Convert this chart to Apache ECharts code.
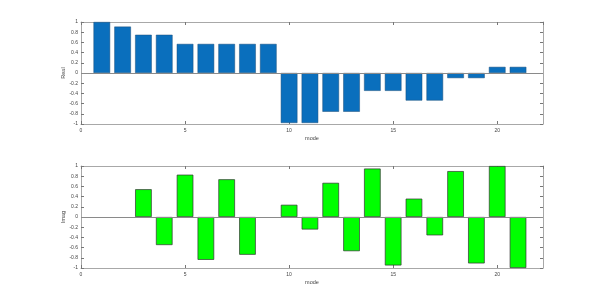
<!DOCTYPE html>
<html>
<head>
<meta charset="utf-8">
<script src="https://cdn.jsdelivr.net/npm/echarts@6/dist/echarts.min.js"></script>
<style>html,body{margin:0;padding:0;background:#fff;}#c{width:600px;height:301px;}</style>
</head>
<body>
<div id="c"></div>
<script>
const modes = [1,2,3,4,5,6,7,8,9,10,11,12,13,14,15,16,17,18,19,20,21];
const realVals = [1.0,0.91,0.75,0.75,0.57,0.57,0.57,0.57,0.57,-0.98,-0.98,-0.76,-0.76,-0.35,-0.35,-0.54,-0.54,-0.1,-0.1,0.12,0.12];
const imagVals = [0,0,0.545,-0.55,0.83,-0.84,0.74,-0.74,0,0.24,-0.245,0.67,-0.67,0.95,-0.95,0.36,-0.36,0.9,-0.91,1.0,-1.0];
const yTicks = [-1,-0.8,-0.6,-0.4,-0.2,0,0.2,0.4,0.6,0.8,1];

const lineCol = '#a8a8a8';
const txtCol = '#444';
const fs = 5;

function xAx(grid, pos, labels, name) {
  return {
    type:'value', gridIndex:grid, position:pos, min:0, max:22.2, interval:5,
    axisLine:{show:true,onZero:false,lineStyle:{color:lineCol,width:1}},
    axisTick:{show:true,inside:true,length:3,lineStyle:{color:'#777'}},
    axisLabel:{show:labels,fontSize:fs,color:txtCol,margin:4,showMaxLabel:false,fontFamily:'Liberation Sans'},
    splitLine:{show:false},
    name: name||'', nameLocation:'middle', nameGap:11, nameMoveOverlap:false,
    nameTextStyle:{fontSize:5.5,color:txtCol,fontFamily:'Liberation Sans'}
  };
}
function yAx(grid, pos, labels, name) {
  return {
    type:'value', gridIndex:grid, position:pos, min:-1, max:1, interval:0.2,
    axisLine:{show:true,onZero:false,lineStyle:{color:lineCol,width:1}},
    axisTick:{show:true,inside:true,length:3,lineStyle:{color:'#777'}},
    axisLabel:{show:labels,fontSize:fs,color:txtCol,margin:3,fontFamily:'Liberation Sans',
      formatter:v=>{const r=Math.round(v*10)/10; return String(r);}},
    splitLine:{show:false},
    name: name||'', nameLocation:'middle', nameGap:15, nameRotate:90, nameMoveOverlap:false,
    nameTextStyle:{fontSize:5.5,color:txtCol,fontFamily:'Liberation Sans'}
  };
}

const zeroLine = {silent:true,symbol:'none',label:{show:false},lineStyle:{color:'#8a8a8a',width:1,type:'solid'},data:[{yAxis:0}]};

function pairs(vals){
  return modes.map((m,i)=>[m,vals[i]]).filter(p=>p[1]!==0);
}

const chart = echarts.init(document.getElementById('c'),null,{renderer:'canvas'});
chart.setOption({
  animation:false,
  backgroundColor:'#fff',
  grid:[
    {left:81,top:22,width:462,height:102},
    {left:81,top:166,width:462,height:102}
  ],
  xAxis:[
    xAx(0,'bottom',true,'mode'),
    xAx(0,'top',false),
    xAx(1,'bottom',true,'mode'),
    xAx(1,'top',false)
  ],
  yAxis:[
    yAx(0,'left',true,'Real'),
    yAx(0,'right',false),
    yAx(1,'left',true,'Imag'),
    yAx(1,'right',false)
  ],
  series:[
    {type:'bar',xAxisIndex:0,yAxisIndex:0,barWidth:16.6,
     data:pairs(realVals),
     itemStyle:{color:'#0a6fbd',borderColor:'#1d4f7a',borderWidth:0.5},
     markLine:zeroLine},
    {type:'bar',xAxisIndex:2,yAxisIndex:2,barWidth:16.6,
     data:pairs(imagVals),
     itemStyle:{color:'#00ff00',borderColor:'#333',borderWidth:0.7},
     markLine:zeroLine}
  ]
});
</script>
</body>
</html>
